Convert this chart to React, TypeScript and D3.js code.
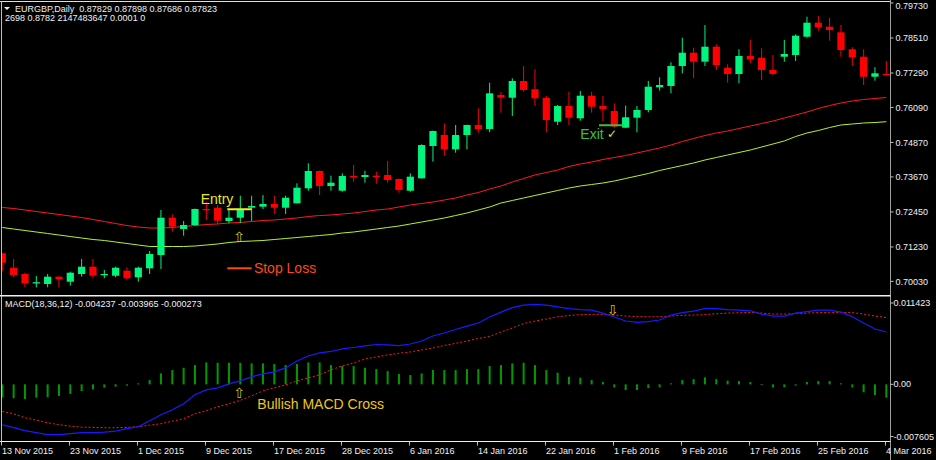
import React from 'react';
import * as d3 from 'd3';

// ---------- DATA ----------
const openP = [0.71009, 0.70507, 0.70288, 0.69985, 0.69939, 0.70194, 0.70019, 0.70288, 0.70542, 0.70253, 0.70228, 0.70403, 0.70173, 0.70486, 0.70950, 0.72249, 0.71855, 0.71995, 0.72552, 0.72598, 0.72134, 0.72249, 0.72598, 0.72633, 0.72727, 0.72598, 0.72751, 0.73274, 0.73876, 0.73354, 0.73190, 0.73702, 0.73667, 0.73713, 0.73737, 0.73598, 0.73190, 0.73622, 0.74747, 0.75131, 0.74632, 0.75131, 0.75479, 0.75340, 0.76524, 0.76430, 0.77012, 0.76723, 0.76430, 0.75594, 0.76141, 0.75713, 0.76500, 0.76141, 0.75967, 0.75385, 0.75734, 0.76002, 0.76793, 0.76838, 0.77535, 0.77998, 0.77685, 0.78207, 0.77476, 0.77256, 0.77883, 0.77824, 0.77396, 0.77859, 0.77918, 0.78556, 0.79044, 0.78904, 0.78709, 0.78117, 0.77859, 0.77162, 0.77256];
const highP = [0.71019, 0.70810, 0.70333, 0.70218, 0.70288, 0.70200, 0.70368, 0.70810, 0.70810, 0.70427, 0.70542, 0.70521, 0.70542, 0.71089, 0.72517, 0.72368, 0.72134, 0.72570, 0.72807, 0.72692, 0.72517, 0.73016, 0.73016, 0.73040, 0.73016, 0.73016, 0.73448, 0.74145, 0.73893, 0.73713, 0.73796, 0.74085, 0.73887, 0.73852, 0.74225, 0.73610, 0.73796, 0.74807, 0.75285, 0.75538, 0.75479, 0.75490, 0.76061, 0.76953, 0.76639, 0.77106, 0.77535, 0.77420, 0.76490, 0.76176, 0.76639, 0.76664, 0.76639, 0.76490, 0.76235, 0.76152, 0.76141, 0.77012, 0.77141, 0.77664, 0.78521, 0.78173, 0.78963, 0.78291, 0.77594, 0.78117, 0.78441, 0.78152, 0.77918, 0.78441, 0.78639, 0.79253, 0.79277, 0.79218, 0.78963, 0.78186, 0.78117, 0.77490, 0.77709];
const lowP = [0.70403, 0.70173, 0.69824, 0.69824, 0.69824, 0.69824, 0.69880, 0.70194, 0.70138, 0.70138, 0.70173, 0.70078, 0.70019, 0.70288, 0.70462, 0.71761, 0.71622, 0.71978, 0.72169, 0.72030, 0.72054, 0.72054, 0.72134, 0.72552, 0.72378, 0.72378, 0.72751, 0.73190, 0.73040, 0.73190, 0.73155, 0.73504, 0.73469, 0.73434, 0.73469, 0.73120, 0.73155, 0.73610, 0.74200, 0.74399, 0.74514, 0.74632, 0.75211, 0.75225, 0.75908, 0.75793, 0.76639, 0.76141, 0.75225, 0.75479, 0.75479, 0.75629, 0.75908, 0.75594, 0.75375, 0.75370, 0.75225, 0.75922, 0.76674, 0.76584, 0.77281, 0.77106, 0.77535, 0.77396, 0.76953, 0.76932, 0.77629, 0.77047, 0.77221, 0.77685, 0.77709, 0.78521, 0.78765, 0.78416, 0.77859, 0.77535, 0.76873, 0.77023, 0.77221];
const closeP = [0.70681, 0.70253, 0.69964, 0.70002, 0.70194, 0.70103, 0.70333, 0.70542, 0.70228, 0.70288, 0.70507, 0.70138, 0.70507, 0.70984, 0.72249, 0.71936, 0.71995, 0.72552, 0.72535, 0.72145, 0.72249, 0.72552, 0.72657, 0.72727, 0.72598, 0.72946, 0.73295, 0.73876, 0.73354, 0.73469, 0.73702, 0.73691, 0.73737, 0.73702, 0.73563, 0.73214, 0.73678, 0.74782, 0.75270, 0.74632, 0.75131, 0.75479, 0.75340, 0.76584, 0.76430, 0.77012, 0.76699, 0.76409, 0.75653, 0.76141, 0.75734, 0.76500, 0.76117, 0.76037, 0.75427, 0.75748, 0.76002, 0.76814, 0.76873, 0.77535, 0.77998, 0.77685, 0.78207, 0.77570, 0.77256, 0.77883, 0.77768, 0.77396, 0.77256, 0.77953, 0.78591, 0.79044, 0.78883, 0.78789, 0.78092, 0.77838, 0.77162, 0.77281, 0.77232];

const maRed = [0.72605, 0.72570, 0.72518, 0.72465, 0.72413, 0.72361, 0.72308, 0.72256, 0.72187, 0.72117, 0.72047, 0.71977, 0.71925, 0.71890, 0.71890, 0.71908, 0.71943, 0.71977, 0.72012, 0.72030, 0.72065, 0.72082, 0.72117, 0.72152, 0.72169, 0.72204, 0.72239, 0.72291, 0.72326, 0.72343, 0.72378, 0.72413, 0.72465, 0.72518, 0.72552, 0.72622, 0.72692, 0.72744, 0.72796, 0.72866, 0.72936, 0.73040, 0.73127, 0.73249, 0.73354, 0.73493, 0.73615, 0.73737, 0.73824, 0.73911, 0.74033, 0.74120, 0.74190, 0.74277, 0.74347, 0.74417, 0.74504, 0.74591, 0.74678, 0.74782, 0.74904, 0.75009, 0.75113, 0.75200, 0.75270, 0.75357, 0.75444, 0.75531, 0.75619, 0.75723, 0.75828, 0.75932, 0.76054, 0.76159, 0.76246, 0.76315, 0.76368, 0.76403, 0.76437];
const maYellow = [0.71908, 0.71855, 0.71803, 0.71751, 0.71699, 0.71646, 0.71594, 0.71542, 0.71490, 0.71455, 0.71403, 0.71350, 0.71298, 0.71246, 0.71246, 0.71246, 0.71246, 0.71263, 0.71298, 0.71333, 0.71385, 0.71420, 0.71437, 0.71455, 0.71490, 0.71524, 0.71559, 0.71594, 0.71629, 0.71664, 0.71716, 0.71751, 0.71803, 0.71855, 0.71908, 0.71960, 0.72030, 0.72099, 0.72169, 0.72239, 0.72326, 0.72413, 0.72518, 0.72622, 0.72761, 0.72849, 0.72936, 0.73023, 0.73110, 0.73197, 0.73284, 0.73354, 0.73406, 0.73458, 0.73528, 0.73615, 0.73702, 0.73789, 0.73894, 0.73981, 0.74068, 0.74155, 0.74260, 0.74347, 0.74434, 0.74521, 0.74608, 0.74713, 0.74817, 0.74922, 0.75078, 0.75200, 0.75287, 0.75392, 0.75479, 0.75514, 0.75549, 0.75566, 0.75594];

const macdMain = [-0.00528, -0.00567, -0.00606, -0.00632, -0.00658, -0.00658, -0.00645, -0.00632, -0.00632, -0.00626, -0.00613, -0.00580, -0.00554, -0.00476, -0.00398, -0.00332, -0.00254, -0.00137, -0.00072, -0.00046, 0.00007, 0.00046, 0.00098, 0.00137, 0.00163, 0.00215, 0.00306, 0.00371, 0.00411, 0.00430, 0.00463, 0.00482, 0.00502, 0.00521, 0.00515, 0.00506, 0.00528, 0.00567, 0.00632, 0.00671, 0.00717, 0.00762, 0.00802, 0.00880, 0.00945, 0.01004, 0.01036, 0.01045, 0.01036, 0.01014, 0.00991, 0.00977, 0.00971, 0.00932, 0.00880, 0.00828, 0.00811, 0.00821, 0.00841, 0.00906, 0.00938, 0.00958, 0.00991, 0.00991, 0.00977, 0.00971, 0.00962, 0.00919, 0.00893, 0.00893, 0.00932, 0.00951, 0.00971, 0.00971, 0.00945, 0.00884, 0.00802, 0.00723, 0.00684];
const macdSignal = [-0.00354, -0.00384, -0.00437, -0.00469, -0.00502, -0.00528, -0.00547, -0.00560, -0.00563, -0.00567, -0.00567, -0.00563, -0.00554, -0.00534, -0.00515, -0.00482, -0.00450, -0.00384, -0.00345, -0.00293, -0.00254, -0.00209, -0.00150, -0.00085, -0.00046, -0.00007, 0.00046, 0.00085, 0.00124, 0.00189, 0.00241, 0.00280, 0.00332, 0.00358, 0.00384, 0.00407, 0.00424, 0.00450, 0.00476, 0.00508, 0.00537, 0.00567, 0.00600, 0.00626, 0.00684, 0.00736, 0.00795, 0.00828, 0.00854, 0.00884, 0.00899, 0.00912, 0.00915, 0.00915, 0.00906, 0.00893, 0.00886, 0.00884, 0.00884, 0.00893, 0.00902, 0.00906, 0.00912, 0.00923, 0.00932, 0.00936, 0.00941, 0.00932, 0.00919, 0.00919, 0.00925, 0.00932, 0.00938, 0.00941, 0.00941, 0.00938, 0.00919, 0.00893, 0.00873];
const macdHist = [-0.00169, -0.00182, -0.00191, -0.00174, -0.00169, -0.00152, -0.00126, -0.00087, -0.00065, -0.00043, -0.00030, -0.00017, 0.00013, 0.00056, 0.00143, 0.00187, 0.00217, 0.00252, 0.00287, 0.00282, 0.00282, 0.00282, 0.00274, 0.00274, 0.00265, 0.00252, 0.00265, 0.00287, 0.00287, 0.00252, 0.00239, 0.00239, 0.00217, 0.00200, 0.00174, 0.00135, 0.00122, 0.00143, 0.00187, 0.00187, 0.00187, 0.00200, 0.00200, 0.00239, 0.00252, 0.00274, 0.00282, 0.00252, 0.00187, 0.00152, 0.00100, 0.00087, 0.00056, 0.00030, -0.00039, -0.00074, -0.00074, -0.00048, -0.00039, 0.00013, 0.00056, 0.00069, 0.00091, 0.00069, 0.00048, 0.00043, 0.00030, 0.00004, -0.00039, -0.00035, -0.00017, 0.00030, 0.00043, 0.00043, 0.00013, -0.00039, -0.00104, -0.00139, -0.00174];

const priceTicks = [0.7973, 0.7851, 0.7729, 0.7609, 0.7487, 0.7367, 0.7245, 0.7123, 0.7003];
const macdTicks = [0.011423, 0, -0.007605];
const macdTickLabels = ['0.011423', '0.00', '-0.007605'];
const dateLabels = ['13 Nov 2015', '23 Nov 2015', '1 Dec 2015', '9 Dec 2015', '17 Dec 2015', '28 Dec 2015', '6 Jan 2016', '14 Jan 2016', '22 Jan 2016', '1 Feb 2016', '9 Feb 2016', '17 Feb 2016', '25 Feb 2016', '4 Mar 2016'];
const barsPerLabel = 6;

const headerLine1 = 'EURGBP,Daily  0.87829 0.87898 0.87686 0.87823';
const headerLine2 = '2698 0.8782 2147483647 0.0001 0';
const macdHeader = 'MACD(18,36,12) -0.004237 -0.003965 -0.000273';

// ---------- LAYOUT ----------
const W = 936;
const H = 460;
const plotL = 2;
const plotR = 890.5;
const mainTop = 2;
const mainBot = 295;
const macdTop = 297;
const macdBot = 441.5;

const n = closeP.length;
const x = d3.scaleLinear().domain([0, n - 1]).range([2.3, 886.3]);
const yP = d3.scaleLinear().domain([0.6957, 0.7973]).range([294.6, 3]);
const yM = d3.scaleLinear().domain([-0.007605, 0.011423]).range([442.5, 297]);

const BULL = '#00f57f';
const BEAR = '#ff0000';
const FONT = '"Liberation Sans", Arial, sans-serif';

export default function App() {
  const idx = d3.range(n);
  const lineP = d3.line<number>().x((_, i) => x(i)).y((d) => yP(d));
  const lineM = d3.line<number>().x((_, i) => x(i)).y((d) => yM(d));
  const bodyW = 7.2;

  return (
    <svg
      width={W}
      height={H}
      style={{ position: 'absolute', left: 0, top: 0, background: '#000', fontFamily: FONT }}
    >
      <defs>
        <clipPath id="clipMain">
          <rect x={plotL} y={mainTop} width={plotR - plotL} height={mainBot - mainTop} />
        </clipPath>
        <clipPath id="clipMacd">
          <rect x={plotL} y={macdTop} width={plotR - plotL} height={macdBot - macdTop} />
        </clipPath>
      </defs>
      <rect x={0} y={0} width={W} height={H} fill="#000" />

      {/* main panel */}
      <g clipPath="url(#clipMain)">
        <path d={lineP(maRed) || ''} fill="none" stroke="#ff1a1a" strokeWidth={1} />
        <path d={lineP(maYellow) || ''} fill="none" stroke="#b8f02a" strokeWidth={1} />
        {idx.map((i) => {
          const up = closeP[i] >= openP[i];
          const col = up ? BULL : BEAR;
          const yt = yP(Math.max(openP[i], closeP[i]));
          const yb = yP(Math.min(openP[i], closeP[i]));
          const cx = x(i);
          return (
            <g key={i}>
              <line x1={cx} x2={cx} y1={yP(highP[i])} y2={yP(lowP[i])} stroke={col} strokeWidth={1} />
              <rect x={cx - bodyW / 2} y={yt} width={bodyW} height={Math.max(yb - yt, 1.3)} fill={col} />
            </g>
          );
        })}
        {/* annotations */}
        <text x={x(17.5)} y={yP(0.72723)} fill="#e8e820" fontSize={14}>Entry</text>
        <line x1={x(19.85)} x2={x(22)} y1={yP(0.72542)} y2={yP(0.72542)} stroke="#f0f020" strokeWidth={2} />
        <text x={x(20.9)} y={yP(0.71415)} fill="#d0d014" fontSize={14} textAnchor="middle" fontFamily="DejaVu Sans">⇧</text>
        <line x1={x(19.85)} x2={x(22)} y1={yP(0.70486)} y2={yP(0.70486)} stroke="#ff4a10" strokeWidth={2} />
        <text x={x(22.2)} y={yP(0.70327)} fill="#ff4a10" fontSize={14}>Stop Loss</text>
        <text x={x(51.0)} y={yP(0.75)} fill="#3cc03c" fontSize={14}>Exit</text>
        <line x1={x(52.65)} x2={x(54.8)} y1={yP(0.75469)} y2={yP(0.75469)} stroke="#3cc03c" strokeWidth={2} />
        <text x={x(53.8)} y={yP(0.7501)} fill="#e8e020" fontSize={12} textAnchor="middle" fontFamily="DejaVu Sans">✓</text>
      </g>

      {/* macd panel */}
      <g clipPath="url(#clipMacd)">
        {idx.map((i) => {
          const y0 = yM(0);
          const y1 = yM(macdHist[i]);
          return (
            <rect key={i} x={x(i) - 1} y={Math.min(y0, y1)} width={2} height={Math.max(Math.abs(y1 - y0), 0.8)} fill="#009a00" />
          );
        })}
        <path d={lineM(macdSignal) || ''} fill="none" stroke="#ff1a1a" strokeWidth={1} strokeDasharray="2 2" />
        <path d={lineM(macdMain) || ''} fill="none" stroke="#1a1aff" strokeWidth={1.2} />
        <text x={x(20.9)} y={yM(-0.00185)} fill="#c8c810" fontSize={14} textAnchor="middle" fontFamily="DejaVu Sans">⇧</text>
        <text x={x(22.5)} y={yM(-0.00322)} fill="#f0c814" fontSize={14}>Bullish MACD Cross</text>
        <text x={x(53.85)} y={yM(0.00905)} fill="#d0c010" fontSize={14} textAnchor="middle" fontFamily="DejaVu Sans">⇩</text>
      </g>

      {/* frame */}
      <line x1={0} x2={plotR} y1={1.5} y2={1.5} stroke="#e0e0e0" strokeWidth={1} />
      <line x1={1.5} x2={1.5} y1={1} y2={macdBot} stroke="#c0c0c0" strokeWidth={1} />
      <line x1={plotR} x2={plotR} y1={0} y2={H} stroke="#a0a0a0" strokeWidth={1} />
      <line x1={0} x2={plotR} y1={295.8} y2={295.8} stroke="#f0f0f0" strokeWidth={1.6} />
      <line x1={0} x2={plotR} y1={macdBot} y2={macdBot} stroke="#f0f0f0" strokeWidth={1} />

      {/* header texts */}
      <path d="M4,7 L10,7 L7,10 Z" fill="#f0f0f0" />
      <text x={15} y={11.5} fill="#f0f0f0" fontSize={9} style={{ whiteSpace: 'pre' }}>{headerLine1}</text>
      <text x={5} y={21} fill="#f0f0f0" fontSize={9}>{headerLine2}</text>
      <text x={5} y={307} fill="#f0f0f0" fontSize={9}>{macdHeader}</text>

      {/* price axis */}
      {priceTicks.map((p) => {
        const yy = yP(p);
        const ty = Math.max(yy, 5.5);
        return (
          <g key={p}>
            <line x1={plotR} x2={plotR + 3} y1={yy} y2={yy} stroke="#c0c0c0" />
            <text x={plotR + 5} y={ty} dy="0.35em" fill="#f0f0f0" fontSize={9}>{p.toFixed(5)}</text>
          </g>
        );
      })}
      {macdTicks.map((v, k) => {
        const yy = k === 0 ? yM(v) + 6 : k === 2 ? yM(v) - 6 : yM(v);
        return (
          <g key={v}>
            <line x1={plotR} x2={plotR + 3} y1={yy} y2={yy} stroke="#c0c0c0" />
            <text x={plotR + 3} y={yy} dy="0.35em" fill="#f0f0f0" fontSize={9}>{macdTickLabels[k]}</text>
          </g>
        );
      })}

      {/* date axis */}
      {dateLabels.map((lab, k) => {
        const xx = x(k * barsPerLabel) - 0.8;
        return (
          <g key={lab}>
            <line x1={xx} x2={xx} y1={macdBot} y2={macdBot + 4} stroke="#c0c0c0" />
            <text x={xx + 0.5} y={453.5} fill="#f0f0f0" fontSize={9}>{lab}</text>
          </g>
        );
      })}
    </svg>
  );
}
